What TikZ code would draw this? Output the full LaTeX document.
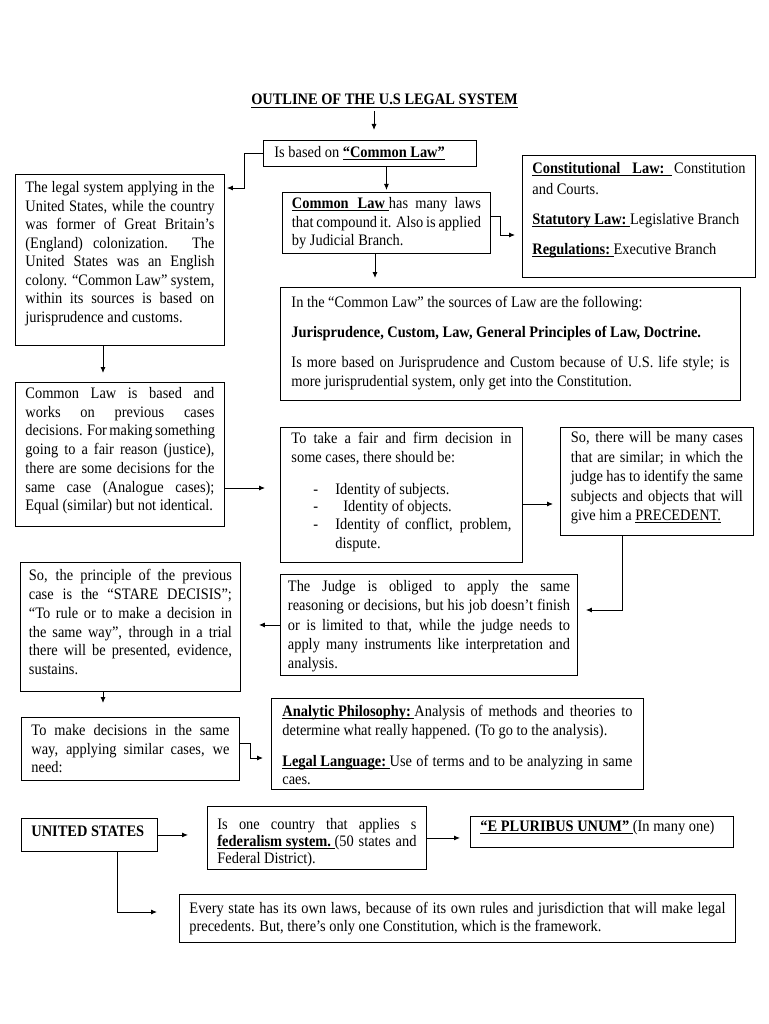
\documentclass[tikz,border=0pt]{standalone}
\usepackage{fontspec}
\setmainfont{Liberation Serif}[FakeStretch=0.9]
\usetikzlibrary{arrows.meta}
\newcommand\bx[4]{\parbox[t][#2pt][t]{#1pt}{\fontsize{16}{#3}\selectfont #4}}
\newcommand\J[1]{\makebox[\linewidth][s]{#1}\par}
\newcommand\U[1]{\leavevmode\setbox0=\hbox{#1}\rlap{\rule[-2.6pt]{\wd0}{0.85pt}}\box0}
\begin{document}
\begin{tikzpicture}[x=1pt,y=-1pt,
  box/.style={draw=black, line width=0.9pt, rectangle, anchor=north west},
  arr/.style={-{Latex[length=6pt,width=5pt]}, line width=0.9pt},
  font=\fontsize{16}{19}\selectfont]
\useasboundingbox[fill=white] (0,0) rectangle (768,1024);

% title
\node[anchor=base, font=\fontsize{16}{19}\selectfont\bfseries] (title) at (384.5,105) {\U{OUTLINE OF THE U.S LEGAL SYSTEM}};

% boxes
\node[box, inner xsep=11pt, inner ysep=6pt] (base) at (263,140)
  {\bx{191}{14}{19}{Is based on \U{\textbf{“Common Law”}}}};

\node[box, inner xsep=10pt, inner ysep=7pt] (lt) at (15,174)
  {\bx{189}{157}{18.5}{%
  \J{The legal system applying in the}
  \J{United States, while the country}
  \J{was former of Great Britain’s}
  \J{(England) colonization. The}
  \J{United States was an English}
  \J{colony. “Common Law” system,}
  \J{within its sources is based on}
  jurisprudence and customs.}};

\node[box, inner xsep=9.5pt, inner ysep=5pt] (cl) at (282,192)
  {\bx{189}{51}{18.5}{%
  \J{\U{\textbf{Common}\hspace{9pt}\textbf{Law}\hspace{4pt}}has many laws}
  \J{that compound it. Also is applied}
  by Judicial Branch.}};

\node[box, inner xsep=10pt, inner ysep=7pt] (con) at (522,155)
  {\bx{213}{108}{21}{%
  \J{\U{\makebox[140pt][s]{\textbf{Constitutional} \textbf{Law:}\hspace{8pt}}}\hfill Constitution}
  and Courts.\par\vspace{9pt}
  \U{\textbf{Statutory Law:}\ }Legislative Branch\par\vspace{9pt}
  \U{\textbf{Regulations:}\ }Executive Branch}};

\node[box, inner xsep=11pt, inner ysep=9pt] (src) at (280,287)
  {\bx{438}{95}{19}{%
  In the “Common Law” the sources of Law are the following:\par\vspace{11pt}
  \textbf{Jurisprudence, Custom, Law, General Principles of Law, Doctrine.}\par\vspace{11pt}
  \J{Is more based on Jurisprudence and Custom because of U.S. life style; is}
  more jurisprudential system, only get into the Constitution.}};

\node[box, inner xsep=10pt, inner ysep=5pt] (lm) at (15,382)
  {\bx{189}{134}{18.7}{%
  \J{Common Law is based and}
  \J{works on previous cases}
  \J{decisions. For making something}
  \J{going to a fair reason (justice),}
  \J{there are some decisions for the}
  \J{same case (Analogue cases);}
  Equal (similar) but not identical.}};

\node[box, inner xsep=11pt, inner ysep=5pt] (mid) at (280,427)
  {\bx{220}{125}{18.5}{%
  \J{To take a fair and firm decision in}
  some cases, there should be:\par\vspace{14.5pt}
  \fontsize{16}{17.5}\selectfont
  \makebox[44pt][l]{\hspace{22pt}-}Identity of subjects.\par
  \makebox[52pt][l]{\hspace{22pt}-}Identity of objects.\par
  \makebox[44pt][l]{\hspace{22pt}-}\makebox[\dimexpr\linewidth-44pt\relax][s]{Identity of conflict, problem,}\par
  \fontsize{16}{19.5}\selectfont
  \makebox[44pt][l]{}dispute.}};

\node[box, inner xsep=10.5pt, inner ysep=4pt] (rt) at (560,427)
  {\bx{172}{100}{19.5}{%
  \J{So, there will be many cases}
  \J{that are similar; in which the}
  \J{judge has to identify the same}
  \J{subjects and objects that will}
  give him a \U{PRECEDENT.}}};

\node[box, inner xsep=7.5pt, inner ysep=6pt] (judge) at (280,574)
  {\bx{282}{89}{19.3}{%
  \J{The Judge is obliged to apply the same}
  \J{reasoning or decisions, but his job doesn’t finish}
  \J{or is limited to that, while the judge needs to}
  \J{apply many instruments like interpretation and}
  analysis.}};

\node[box, inner xsep=8.5pt, inner ysep=7pt] (stare) at (20,562)
  {\bx{203}{115}{18.8}{%
  \J{So, the principle of the previous}
  \J{case is the “STARE DECISIS”;}
  \J{“To rule or to make a decision in}
  \J{the same way”, through in a trial}
  \J{there will be presented, evidence,}
  sustains.}};

\node[box, inner xsep=10pt, inner ysep=7pt] (make) at (21,717)
  {\bx{198}{49}{18.5}{%
  \J{To make decisions in the same}
  \J{way, applying similar cases, we}
  need:}};

\node[box, inner xsep=11pt, inner ysep=7pt] (an) at (271,698)
  {\bx{350}{77}{18.5}{%
  \J{\U{\textbf{Analytic Philosophy:}\ }Analysis of methods and theories to}
  determine what really happened. (To go to the analysis).\par\vspace{12.5pt}
  \J{\U{\textbf{Legal Language:}\ }Use of terms and to be analyzing in same}
  caes.}};

\node[box, inner xsep=10pt, inner ysep=7pt] (us) at (21,818)
  {\bx{116}{19}{19}{\textbf{UNITED STATES}}};

\node[box, inner xsep=10pt, inner ysep=12pt] (fed) at (207,806)
  {\bx{199}{39}{17}{%
  \J{Is one country that applies s}
  \J{\U{\textbf{federalism system.}\ }(50 states and}
  Federal District).}};

\node[box, inner xsep=10pt, inner ysep=4pt] (ep) at (470,816)
  {\bx{243}{23}{19}{\U{\textbf{“E PLURIBUS UNUM”}\ }(In many one)}};

\node[box, inner xsep=10pt, inner ysep=8pt] (every) at (179,894)
  {\bx{536}{32}{18}{%
  \J{Every state has its own laws, because of its own rules and jurisdiction that will make legal}
  precedents. But, there’s only one Constitution, which is the framework.}};

% connectors
\coordinate (a1) at ([xshift=-10.5pt]title.south);
\draw[arr, shorten >=10pt] (a1) -- (a1 |- base.north);

\coordinate (b1) at (244,188);
\draw[arr, shorten >=2pt] (base.west) -| (b1) -- (b1 -| lt.east);

\draw[arr, shorten >=2pt] (base.south -| cl.north) -- (cl.north);

\coordinate (c1) at (500,216);
\coordinate (c2) at (500,235);
\draw[arr, shorten >=7pt] (c1 -| cl.east) -- (c1) -- (c2) -- (c2 -| con.west);

\coordinate (d1) at (375,0);
\draw[arr, shorten >=9pt] (d1 |- cl.south) -- (d1 |- src.north);

\coordinate (e1) at (103,0);
\draw[arr, shorten >=9pt] (e1 |- lt.south) -- (e1 |- lm.north);

\coordinate (f1) at (0,488);
\draw[arr, shorten >=15pt] (f1 -| lm.east) -- (f1 -| mid.west);

\coordinate (g1) at (0,504);
\draw[arr, shorten >=7pt] (g1 -| mid.east) -- (g1 -| rt.west);

\coordinate (h1) at (622,610);
\draw[arr, shorten >=8pt] (h1 |- rt.south) -- (h1) -- (h1 -| judge.east);

\draw[arr, shorten >=18pt] (judge.west) -- (judge.west -| stare.east);

\draw[arr, shorten >=14pt] (e1 |- stare.south) -- (e1 |- make.north);

\coordinate (j1) at (250,743);
\coordinate (j2) at (250,758);
\draw[arr, shorten >=8pt] (j1 -| make.east) -- (j1) -- (j2) -- (j2 -| an.west);

\draw[arr, shorten >=19pt] (us.east) -- (us.east -| fed.west);

\draw[arr, shorten >=10pt] (fed.east) -- (fed.east -| ep.west);

\coordinate (l1) at (117,912);
\draw[arr, shorten >=22pt] (l1 |- us.south) -- (l1) -- (l1 -| every.west);
\end{tikzpicture}
\end{document}
